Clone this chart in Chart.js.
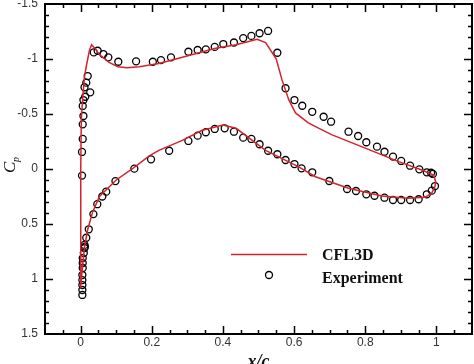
<!DOCTYPE html>
<html>
<head>
<meta charset="utf-8">
<script src="https://cdn.jsdelivr.net/npm/chart.js@4.4.1/dist/chart.umd.min.js"></script>
<style>
  html, body { margin: 0; padding: 0; background: #fff; }
  #wrap { width: 474px; height: 364px; position: relative; }
</style>
</head>
<body>
<div id="wrap"><canvas id="cp-chart"></canvas></div>
<script>
// Axis ticks
const xTicks = [0, 0.2, 0.4, 0.6, 0.8, 1];
const yTicks = [-1.5, -1, -0.5, 0, 0.5, 1, 1.5];

// CFL3D line: upper surface LE -> TE, then lower surface TE -> LE
const cfdX = [0.0, 0.0, 0.001, 0.002, 0.005, 0.011, 0.017, 0.025, 0.031, 0.042, 0.053, 0.08, 0.105, 0.13,
  0.165, 0.22, 0.286, 0.38, 0.437, 0.496, 0.52, 0.55, 0.566, 0.585, 0.604, 0.64, 0.67, 0.707, 0.80,
  0.894, 0.959, 0.992, 0.998,
  0.996, 0.987, 0.968, 0.92, 0.847, 0.753, 0.66, 0.613, 0.52, 0.437, 0.40, 0.34, 0.286, 0.22, 0.193,
  0.147, 0.10, 0.053, 0.034, 0.02, 0.011, 0.005, 0.0];
const cfdCp = [1.08, 0.6, 0.0, -0.45, -0.6, -0.84, -0.95, -1.08, -1.13, -1.09, -1.04, -0.97, -0.93, -0.92,
  -0.93, -0.96, -1.015, -1.097, -1.13, -1.18, -1.15, -1.0, -0.81, -0.63, -0.51, -0.42, -0.37, -0.31, -0.19,
  -0.067, 0.009, 0.055, 0.115,
  0.16, 0.22, 0.257, 0.266, 0.245, 0.175, 0.07, -0.02, -0.17, -0.37, -0.40, -0.35, -0.26, -0.17, -0.12,
  -0.006, 0.10, 0.25, 0.39, 0.55, 0.71, 0.9, 1.08];

// Experiment points
const expX = [0.005, 0.005, 0.005, 0.005, 0.005, 0.006, 0.006, 0.006, 0.009, 0.011, 0.011,
  0.012, 0.016, 0.023, 0.036, 0.047, 0.061, 0.072, 0.098, 0.151, 0.198, 0.249, 0.303, 0.329, 0.352,
  0.377, 0.405, 0.431, 0.457, 0.48, 0.503, 0.527, 0.553, 0.576, 0.601, 0.621, 0.651, 0.699, 0.749,
  0.774, 0.803, 0.826, 0.854, 0.878, 0.901, 0.926, 0.95, 0.973, 0.987, 0.996,
  0.99, 0.985, 0.973, 0.952, 0.926, 0.901, 0.878, 0.854, 0.833, 0.803, 0.78, 0.753, 0.704, 0.683,
  0.651, 0.623, 0.601, 0.576, 0.553, 0.527, 0.503, 0.48, 0.457, 0.431, 0.401, 0.377, 0.352, 0.329,
  0.303, 0.254, 0.226, 0.203, 0.156, 0.106, 0.078, 0.064, 0.048, 0.037,
  0.02, 0.016, 0.011, 0.027, 0.013, 0.008, 0.006, 0.008, 0.006, 0.006, 0.004, 0.004];
const expCp = [1.145, 1.10, 1.055, 1.01, 0.964, 0.90, 0.855, 0.81, 0.764, 0.718, 0.69,
  0.706, 0.625, 0.548, 0.41, 0.32, 0.25, 0.206, 0.11, -0.003, -0.088, -0.166, -0.255, -0.303, -0.334,
  -0.364, -0.37, -0.339, -0.285, -0.273, -0.225, -0.166, -0.134, -0.082, -0.045, -0.006, 0.03, 0.109, 0.182,
  0.2, 0.23, 0.243, 0.261, 0.282, 0.282, 0.282, 0.275, 0.23, 0.197, 0.155,
  0.045, 0.034, 0.03, 0.003, -0.03, -0.073, -0.112, -0.157, -0.203, -0.243, -0.3, -0.339, -0.43, -0.475,
  -0.52, -0.575, -0.627, -0.734, -1.057, -1.255, -1.234, -1.21, -1.19, -1.15, -1.136, -1.11, -1.088, -1.082,
  -1.066, -1.015, -0.99, -0.975, -0.979, -0.975, -1.015, -1.045, -1.075, -1.06,
  -0.845, -0.785, -0.743, -0.697, -0.657, -0.627, -0.573, -0.482, -0.406, -0.273, -0.155, 0.06];

const RED = '#d3232c';
const LABEL_FONT = { family: 'Arial, "Liberation Sans", sans-serif', size: 12 };

// frame, inward ticks, axis titles and legend
const decorPlugin = {
  id: 'decor',
  afterDraw(chart) {
    const { ctx, chartArea: a, scales } = chart;
    ctx.save();
    ctx.strokeStyle = '#000';
    ctx.lineWidth = 1.5;
    ctx.beginPath();
    for (let i = -1; i <= 21; i++) {
      const x = Math.round(scales.x.getPixelForValue(i * 0.05)) + 0.5;
      const len = i % 4 === 0 ? 8 : 4;
      ctx.moveTo(x, a.bottom); ctx.lineTo(x, a.bottom - len);
      ctx.moveTo(x, a.top); ctx.lineTo(x, a.top + len);
    }
    for (let i = -14; i <= 14; i++) {
      const y = Math.round(scales.y.getPixelForValue(i * 0.1)) + 0.5;
      const len = i % 5 === 0 ? 8 : 4;
      ctx.moveTo(a.left, y); ctx.lineTo(a.left + len, y);
      ctx.moveTo(a.right, y); ctx.lineTo(a.right - len, y);
    }
    ctx.stroke();
    ctx.lineWidth = 2;
    ctx.strokeRect(a.left, a.top, a.right - a.left, a.bottom - a.top);

    // legend
    ctx.strokeStyle = RED;
    ctx.lineWidth = 1.5;
    ctx.beginPath();
    ctx.moveTo(231, 254.5); ctx.lineTo(307, 254.5);
    ctx.stroke();
    ctx.strokeStyle = '#000';
    ctx.lineWidth = 1.3;
    ctx.beginPath();
    ctx.arc(269, 275, 3.5, 0, Math.PI * 2);
    ctx.stroke();
    ctx.fillStyle = '#111';
    ctx.font = 'bold 16px "Liberation Serif", "Times New Roman", serif';
    ctx.textAlign = 'left';
    ctx.textBaseline = 'alphabetic';
    ctx.fillText('CFL3D', 322, 260);
    ctx.fillText('Experiment', 322, 283);

    // x title
    ctx.font = 'bold italic 18px "Liberation Serif", "Times New Roman", serif';
    ctx.textAlign = 'center';
    ctx.fillText('x/c', (a.left + a.right) / 2, 367);

    // y title C_p
    ctx.translate(15, 166);
    ctx.rotate(-Math.PI / 2);
    ctx.font = 'italic 17px "Liberation Serif", "Times New Roman", serif';
    ctx.textAlign = 'left';
    ctx.fillText('C', -7, 0);
    ctx.font = 'italic 10px "Liberation Serif", "Times New Roman", serif';
    ctx.fillText('p', 4, 4);
    ctx.restore();
  }
};

new Chart(document.getElementById('cp-chart'), {
  type: 'scatter',
  data: {
    datasets: [
      {
        label: 'CFL3D',
        data: cfdX.map((x, i) => ({ x, y: cfdCp[i] })),
        showLine: true,
        borderColor: RED,
        borderWidth: 1.5,
        pointRadius: 0,
        tension: 0,
        fill: false
      },
      {
        label: 'Experiment',
        data: expX.map((x, i) => ({ x, y: expCp[i] })),
        showLine: false,
        pointStyle: 'circle',
        pointRadius: 3.5,
        borderColor: '#000',
        borderWidth: 1.3,
        backgroundColor: 'rgba(0,0,0,0)'
      }
    ]
  },
  plugins: [decorPlugin],
  options: {
    responsive: true,
    maintainAspectRatio: false,
    animation: false,
    layout: { autoPadding: false, padding: { top: 4, right: 2, left: 0, bottom: 0 } },
    plugins: { legend: { display: false }, tooltip: { enabled: false } },
    scales: {
      x: {
        type: 'linear',
        min: -0.1,
        max: 1.1,
        grid: { display: false, drawTicks: false },
        border: { display: false },
        afterBuildTicks: s => { s.ticks = xTicks.map(v => ({ value: v })); },
        afterFit: s => { s.height = 30; s.paddingLeft = 0; s.paddingRight = 0; },
        ticks: { color: '#333', font: LABEL_FONT, padding: 1, maxRotation: 0, callback: v => String(v) }
      },
      y: {
        type: 'linear',
        reverse: true,
        min: -1.5,
        max: 1.5,
        grid: { display: false, drawTicks: false },
        border: { display: false },
        afterBuildTicks: s => { s.ticks = yTicks.map(v => ({ value: v })); },
        afterFit: s => { s.width = 45; s.paddingTop = 0; s.paddingBottom = 0; },
        ticks: { color: '#333', font: LABEL_FONT, padding: 7, callback: v => String(v) }
      }
    }
  }
});
</script>
</body>
</html>
